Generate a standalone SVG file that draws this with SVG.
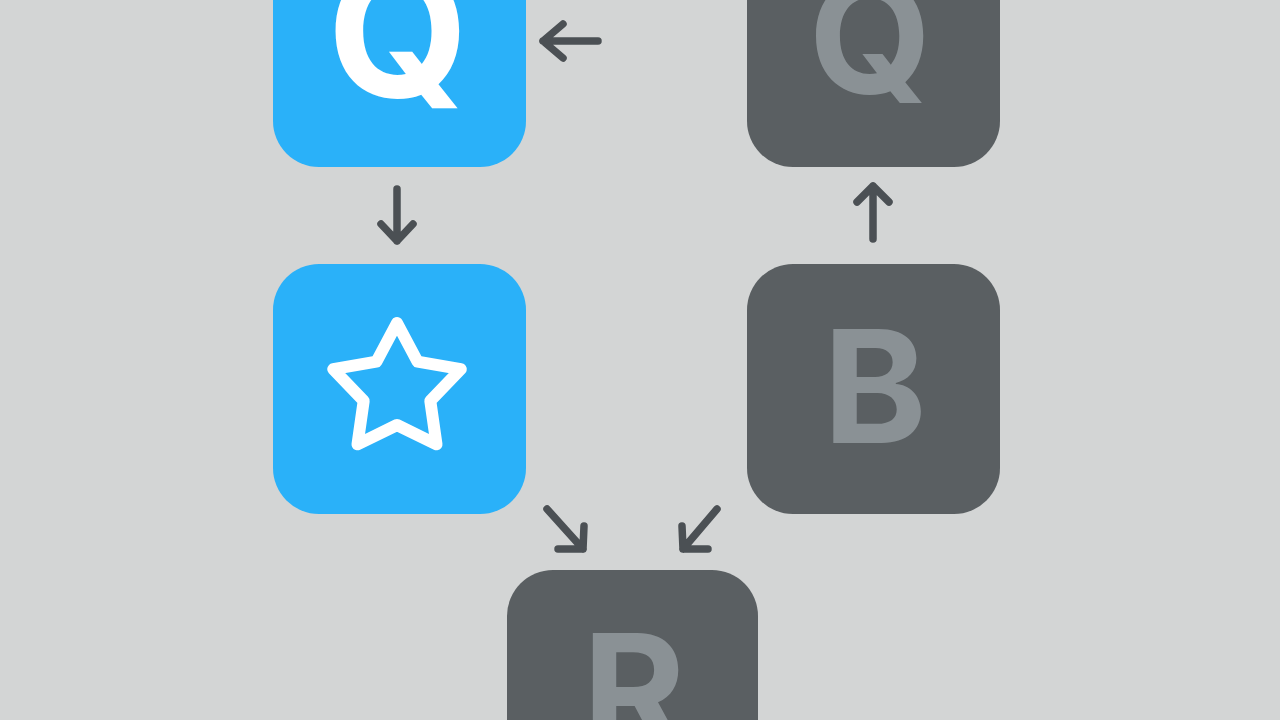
<svg xmlns="http://www.w3.org/2000/svg" width="1280" height="720" viewBox="0 0 1280 720">
<defs>
<style>
.blue{fill:#2ab1f9}
.dark{fill:#5a5f62}
.lw{fill:#ffffff;font-family:Inter,"Liberation Sans",sans-serif;font-weight:700;text-anchor:middle}
.lg{fill:#8a9195;font-family:Inter,"Liberation Sans",sans-serif;font-weight:700;text-anchor:middle}
.arr{fill:none;stroke:#4b5054;stroke-width:7.5;stroke-linecap:round;stroke-linejoin:round}
</style>
</defs>
<rect width="1280" height="720" fill="#d3d5d5"/>
<g id="node-q-blue">
<rect class="blue" x="273" y="-86" width="253" height="253" rx="46"/>
<text class="lw" x="398" y="97" font-size="182">Q</text>
</g>
<g id="node-star">
<rect class="blue" x="273" y="264" width="253" height="250" rx="46"/>
<polygon points="397,323 417.6,361.7 460.8,369.2 430.3,400.8 436.5,444.3 397,425 357.5,444.3 363.7,400.8 333.2,369.2 376.4,361.7" fill="none" stroke="#ffffff" stroke-width="12" stroke-linejoin="round"/>
</g>
<g id="node-q-gray">
<rect class="dark" x="747" y="-86" width="253" height="253" rx="46"/>
<text class="lg" x="870" y="93" font-size="158">Q</text>
</g>
<g id="node-b">
<rect class="dark" x="747" y="264" width="253" height="250" rx="46"/>
<text class="lg" x="875" y="443" font-size="157">B</text>
</g>
<g id="node-r">
<rect class="dark" x="507" y="570" width="251" height="250" rx="46"/>
<text class="lg" x="634" y="747" font-size="157">R</text>
</g>
<g id="connectors">
<path class="arr" d="M598,41 H543 M563,24 L543,41 L563,58"/>
<path class="arr" d="M397,189 V241 M381,224 L397,241 L413,224"/>
<path class="arr" d="M873,239 V186 M857,202 L873,186 L889,202"/>
<path class="arr" d="M547,509 L583,549 M558,549 L583,549 L584,526"/>
<path class="arr" d="M717,509 L683,549 M682,526 L683,549 L708,549"/>
</g>
</svg>
